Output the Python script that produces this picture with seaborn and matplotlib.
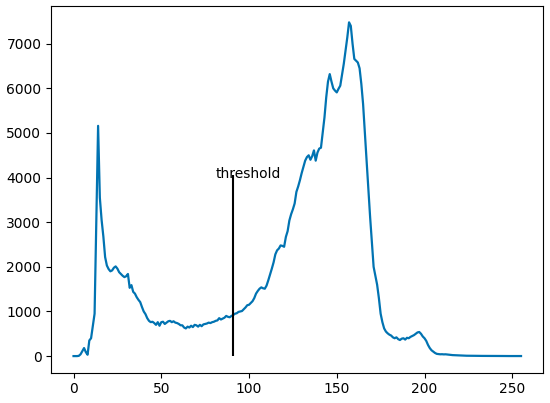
import numpy as np
import pandas as pd
import matplotlib
matplotlib.use("Agg")
import matplotlib.pyplot as plt
import seaborn as sns

# grey level histogram (counts per intensity 0..255)
counts = [
    0, 0, 0, 5, 40, 110, 180, 90, 30, 350,
    400, 680, 950, 3100, 5160, 3550, 3050, 2680, 2220, 2030,
    1950, 1900, 1920, 1980, 2010, 1960, 1880, 1840, 1800, 1770,
    1790, 1840, 1530, 1590, 1440, 1400, 1320, 1260, 1210, 1100,
    1000, 940, 850, 790, 760, 770, 740, 700, 760, 680,
    760, 770, 720, 750, 780, 790, 760, 780, 750, 740,
    720, 690, 690, 640, 620, 660, 640, 680, 650, 700,
    690, 660, 700, 670, 710, 720, 730, 750, 740, 760,
    770, 790, 800, 850, 820, 840, 860, 900, 880, 870,
    900, 920, 950, 960, 990, 1000, 1010, 1050, 1090, 1140,
    1150, 1190, 1230, 1300, 1400, 1460, 1510, 1540, 1520, 1510,
    1580, 1700, 1830, 1960, 2100, 2280, 2370, 2410, 2480, 2470,
    2450, 2670, 2800, 3040, 3180, 3290, 3420, 3680, 3800, 3940,
    4100, 4240, 4380, 4460, 4500, 4400, 4480, 4610, 4380, 4560,
    4650, 4670, 5000, 5350, 5800, 6150, 6320, 6150, 6000, 5950,
    5910, 5990, 6060, 6300, 6550, 6850, 7140, 7480, 7400, 7000,
    6660, 6620, 6580, 6450, 6100, 5650, 5000, 4380, 3750, 3120,
    2550, 2000, 1800, 1600, 1300, 950, 760, 620, 550, 510,
    480, 460, 420, 400, 420, 380, 360, 390, 400, 370,
    410, 400, 430, 450, 470, 500, 530, 540, 500, 440,
    400, 340, 250, 180, 130, 100, 70, 50, 45, 40,
    42, 38, 40, 35, 30, 25, 22, 20, 18, 15,
    12, 10, 10, 9, 8, 8, 7, 7, 6, 6,
    5, 5, 5, 4, 4, 4, 3, 3, 3, 3,
    2, 2, 2, 2, 2, 2, 1, 1, 1, 1,
    1, 1, 1, 1, 1, 1,
]
levels = list(range(256))
threshold = 91

df = pd.DataFrame({"level": levels, "count": counts})

fig, ax = plt.subplots(figsize=(5.5, 4.03), dpi=100)
sns.lineplot(data=df, x="level", y="count", ax=ax,
             color=sns.color_palette("colorblind")[0], linewidth=1.6)
ax.vlines(threshold, 0, 4050, color="black")
ax.text(threshold - 10, 4000, "threshold", fontsize=10)
ax.set_xlabel("")
ax.set_ylabel("")
fig.subplots_adjust(left=0.093, right=0.988, bottom=0.075, top=0.986)
fig.savefig("out.png")
